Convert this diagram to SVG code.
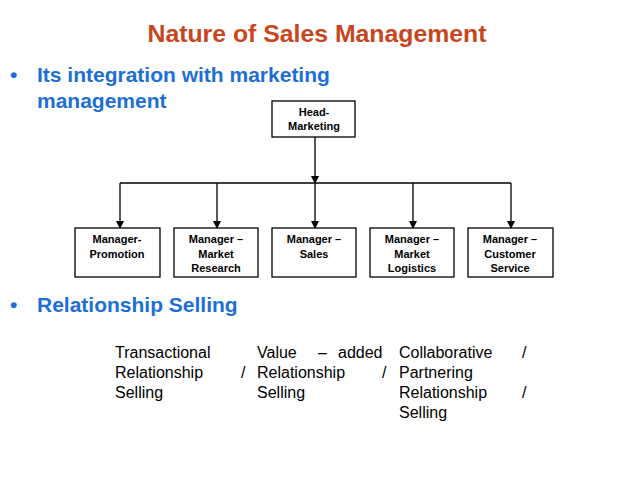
<svg xmlns="http://www.w3.org/2000/svg" width="638" height="479" viewBox="0 0 638 479">
<style>
.t{font-family:"Liberation Sans",Arial,sans-serif}
.title{font-size:24.8px;font-weight:bold;fill:#c8461e}
.bul{font-size:21px;font-weight:bold;fill:#1d6fd6}
.box{fill:#fff;stroke:#000;stroke-width:1.3}
.bt{font-size:11px;font-weight:bold;fill:#000;text-anchor:middle}
.body{font-size:16px;fill:#000}
.ln{stroke:#000;stroke-width:1.3;fill:none}
</style>
<defs><marker id="a" markerWidth="8" markerHeight="8" refX="7" refY="4" orient="auto" markerUnits="userSpaceOnUse"><path d="M0,0 L8,4 L0,8 Z" fill="#000"/></marker></defs>
<text class="t title" x="317" y="42" text-anchor="middle">Nature of Sales Management</text>
<text class="t bul" x="10" y="82">•</text>
<text class="t bul" x="37" y="82">Its integration with marketing</text>
<text class="t bul" x="37" y="108">management</text>
<g id="connectors">
<path class="ln" d="M315,137 V183" marker-end="url(#a)"/>
<path class="ln" d="M120,183 H511"/>
<path class="ln" d="M120,183 V228" marker-end="url(#a)"/>
<path class="ln" d="M217,183 V228" marker-end="url(#a)"/>
<path class="ln" d="M315,183 V228" marker-end="url(#a)"/>
<path class="ln" d="M413,183 V228" marker-end="url(#a)"/>
<path class="ln" d="M511,183 V228" marker-end="url(#a)"/>
</g>
<g id="head"><rect class="box" x="272" y="101" width="83" height="36"/><text class="t bt" x="314" y="116">Head-</text><text class="t bt" x="314" y="130">Marketing</text></g>
<g id="promo"><rect class="box" x="75" y="228" width="85" height="49"/><text class="t bt" x="117" y="243">Manager-</text><text class="t bt" x="117" y="258">Promotion</text></g>
<g id="research"><rect class="box" x="174" y="228" width="84" height="49"/><text class="t bt" x="216" y="243">Manager –</text><text class="t bt" x="216" y="258">Market</text><text class="t bt" x="216" y="272">Research</text></g>
<g id="sales"><rect class="box" x="272" y="228" width="84" height="49"/><text class="t bt" x="314" y="243">Manager –</text><text class="t bt" x="314" y="258">Sales</text></g>
<g id="logistics"><rect class="box" x="370" y="228" width="84" height="49"/><text class="t bt" x="412" y="243">Manager –</text><text class="t bt" x="412" y="258">Market</text><text class="t bt" x="412" y="272">Logistics</text></g>
<g id="service"><rect class="box" x="468" y="228" width="85" height="49"/><text class="t bt" x="510" y="243">Manager –</text><text class="t bt" x="510" y="258">Customer</text><text class="t bt" x="510" y="272">Service</text></g>
<text class="t bul" x="10" y="312">•</text>
<text class="t bul" x="37" y="312">Relationship Selling</text>
<g class="t body">
<text x="115" y="358">Transactional</text>
<text x="115" y="378">Relationship</text><text x="241" y="378">/</text>
<text x="115" y="398">Selling</text>
<text x="257" y="358">Value</text><text x="318" y="358">–</text><text x="338" y="358">added</text>
<text x="257" y="378">Relationship</text><text x="382" y="378">/</text>
<text x="257" y="398">Selling</text>
<text x="399" y="358">Collaborative</text><text x="522" y="358">/</text>
<text x="399" y="378">Partnering</text>
<text x="399" y="398">Relationship</text><text x="522" y="398">/</text>
<text x="399" y="418">Selling</text>
</g>
</svg>
